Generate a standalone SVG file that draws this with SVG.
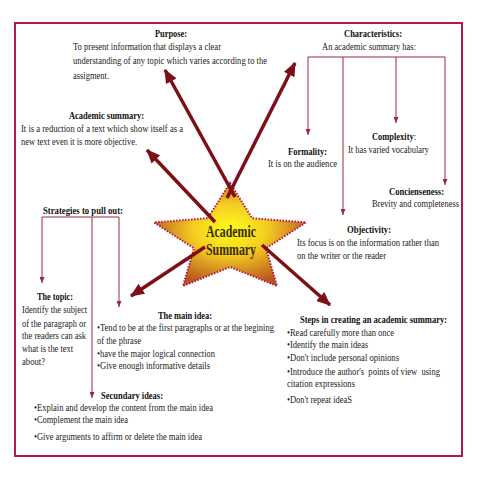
<svg xmlns="http://www.w3.org/2000/svg" width="480" height="480" viewBox="0 0 480 480">
<defs>
<style>
.t{font-family:"Liberation Serif","Times New Roman",serif;font-size:11px;fill:#222}
.b{font-weight:bold;fill:#111}
.thin{stroke:#9c2a3c;stroke-width:1;fill:none}
.thick{stroke:#7d0f18;stroke-width:3.5;fill:none}
.star-t{font-family:"Liberation Serif","Times New Roman",serif;font-size:16px;font-weight:bold;fill:#3a2a05}
</style>
<radialGradient id="sg" cx="50%" cy="45%" r="55%">
<stop offset="0" stop-color="#ffff1a"/>
<stop offset="0.45" stop-color="#f4cc22"/>
<stop offset="1" stop-color="#b8561e"/>
</radialGradient>
<marker id="big" viewBox="0 0 14 12" refX="13" refY="6" markerWidth="14" markerHeight="12" markerUnits="userSpaceOnUse" orient="auto">
<path d="M0,0 L14,6 L0,12 z" fill="#7d0f18"/>
</marker>
<marker id="small" viewBox="0 0 6 5" refX="6" refY="2.5" markerWidth="6" markerHeight="5" markerUnits="userSpaceOnUse" orient="auto">
<path d="M0,0 L6,2.5 L0,5 z" fill="#9c2a3c"/>
</marker>
</defs>
<rect x="0" y="0" width="480" height="480" fill="#fff"/>
<rect x="15" y="23" width="447" height="433" fill="none" stroke="#b01c4a" stroke-width="2"/>

<g id="star">
<path d="M230,183 L252.2,218.2 L306,222.4 L266,248.3 L277,286 L230,267 L183,286 L194,248.3 L154,222.4 L207.8,218.2 Z" fill="url(#sg)" stroke="#b0184a" stroke-width="2" stroke-dasharray="1.5 1.5"/>
<text class="star-t" x="206" y="237" textLength="50" lengthAdjust="spacingAndGlyphs">Academic</text>
<text class="star-t" x="206" y="255" textLength="50" lengthAdjust="spacingAndGlyphs">Summary</text>
</g>

<g id="connectors">
<line class="thick" x1="235" y1="197" x2="165" y2="70" marker-end="url(#big)"/>
<line class="thick" x1="227" y1="198" x2="295" y2="63" marker-end="url(#big)"/>
<line class="thick" x1="215" y1="222" x2="147" y2="150" marker-end="url(#big)"/>
<line class="thick" x1="205" y1="247" x2="131" y2="296" marker-end="url(#big)"/>
<line class="thick" x1="262" y1="245" x2="330" y2="305" marker-end="url(#big)"/>
<line class="thin" x1="308" y1="57" x2="445" y2="57"/>
<line class="thin" x1="308" y1="57" x2="308" y2="135" marker-end="url(#small)"/>
<line class="thin" x1="343" y1="57" x2="343" y2="215" marker-end="url(#small)"/>
<line class="thin" x1="396" y1="57" x2="396" y2="123" marker-end="url(#small)"/>
<line class="thin" x1="445" y1="57" x2="445" y2="185" marker-end="url(#small)"/>
<line class="thin" x1="42" y1="217" x2="119" y2="217"/>
<line class="thin" x1="42" y1="217" x2="42" y2="283" marker-end="url(#small)"/>
<line class="thin" x1="92" y1="217" x2="92" y2="398" marker-end="url(#small)"/>
<line class="thin" x1="119" y1="217" x2="119" y2="307" marker-end="url(#small)"/>
</g>

<g id="purpose">
<text class="t b" x="155" y="37" textLength="32" lengthAdjust="spacingAndGlyphs">Purpose:</text>
<text class="t" x="73" y="50" textLength="148" lengthAdjust="spacingAndGlyphs">To present information that displays a clear</text>
<text class="t" x="73" y="64" textLength="194" lengthAdjust="spacingAndGlyphs">understanding of any topic which varies according to the</text>
<text class="t" x="73" y="79" textLength="36" lengthAdjust="spacingAndGlyphs">assigment.</text>
</g>

<g id="academic-summary">
<text class="t b" x="69" y="119" textLength="75" lengthAdjust="spacingAndGlyphs">Academic summary:</text>
<text class="t" x="21" y="132" textLength="162" lengthAdjust="spacingAndGlyphs">It is a reduction of a text which show itself as a</text>
<text class="t" x="21" y="145" textLength="116" lengthAdjust="spacingAndGlyphs">new text even it is more objective.</text>
</g>

<g id="characteristics">
<text class="t b" x="344" y="37" textLength="58" lengthAdjust="spacingAndGlyphs">Characteristics:</text>
<text class="t" x="322" y="50" textLength="94" lengthAdjust="spacingAndGlyphs">An academic summary has:</text>
</g>

<g id="complexity">
<text class="t" x="372" y="140" textLength="44" lengthAdjust="spacingAndGlyphs"><tspan font-weight="bold" fill="#111">Complexity</tspan>:</text>
<text class="t" x="348" y="153" textLength="81" lengthAdjust="spacingAndGlyphs">It has varied vocabulary</text>
</g>

<g id="formality">
<text class="t b" x="288" y="155" textLength="39" lengthAdjust="spacingAndGlyphs">Formality:</text>
<text class="t" x="268" y="167" textLength="69" lengthAdjust="spacingAndGlyphs">It is on the audience</text>
</g>

<g id="concienseness">
<text class="t b" x="389" y="195" textLength="55" lengthAdjust="spacingAndGlyphs">Concienseness:</text>
<text class="t" x="372" y="207" textLength="87" lengthAdjust="spacingAndGlyphs">Brevity and completeness</text>
</g>

<g id="objectivity">
<text class="t b" x="347" y="233" textLength="44" lengthAdjust="spacingAndGlyphs">Objectivity:</text>
<text class="t" x="297" y="246" textLength="142" lengthAdjust="spacingAndGlyphs">Its focus is on the information rather than</text>
<text class="t" x="297" y="259" textLength="89" lengthAdjust="spacingAndGlyphs">on the writer or the reader</text>
</g>

<g id="strategies">
<text class="t b" x="43" y="214" textLength="80" lengthAdjust="spacingAndGlyphs">Strategies to pull out:</text>
</g>

<g id="topic">
<text class="t b" x="37" y="300" textLength="36" lengthAdjust="spacingAndGlyphs">The topic:</text>
<text class="t" x="22" y="313" textLength="65" lengthAdjust="spacingAndGlyphs">Identify the subject</text>
<text class="t" x="22" y="327" textLength="64" lengthAdjust="spacingAndGlyphs">of the paragraph or</text>
<text class="t" x="22" y="339" textLength="64" lengthAdjust="spacingAndGlyphs">the readers can ask</text>
<text class="t" x="22" y="352" textLength="51" lengthAdjust="spacingAndGlyphs">what is the text</text>
<text class="t" x="22" y="365" textLength="23" lengthAdjust="spacingAndGlyphs">about?</text>
</g>

<g id="main-idea">
<text class="t b" x="158" y="319" textLength="54" lengthAdjust="spacingAndGlyphs">The main idea:</text>
<text class="t" x="97" y="331" textLength="177" lengthAdjust="spacingAndGlyphs">•Tend to be at the first paragraphs or at the begining</text>
<text class="t" x="97" y="344" textLength="44" lengthAdjust="spacingAndGlyphs">of the phrase</text>
<text class="t" x="97" y="357" textLength="118" lengthAdjust="spacingAndGlyphs">•have the major logical connection</text>
<text class="t" x="97" y="369" textLength="113" lengthAdjust="spacingAndGlyphs">•Give enough informative details</text>
</g>

<g id="secundary-ideas">
<text class="t b" x="101" y="399" textLength="62" lengthAdjust="spacingAndGlyphs">Secundary ideas:</text>
<text class="t" x="34" y="411" textLength="179" lengthAdjust="spacingAndGlyphs">•Explain and develop the content from the main idea</text>
<text class="t" x="34" y="423" textLength="94" lengthAdjust="spacingAndGlyphs">•Complement the main idea</text>
<text class="t" x="34" y="440" textLength="168" lengthAdjust="spacingAndGlyphs">•Give arguments to affirm or delete the main idea</text>
</g>

<g id="steps">
<text class="t b" x="300" y="323" textLength="147" lengthAdjust="spacingAndGlyphs">Steps in creating an academic summary:</text>
<text class="t" x="287" y="336" textLength="107" lengthAdjust="spacingAndGlyphs">•Read carefully more than once</text>
<text class="t" x="287" y="348" textLength="81" lengthAdjust="spacingAndGlyphs">•Identify the main ideas</text>
<text class="t" x="287" y="361" textLength="112" lengthAdjust="spacingAndGlyphs">•Don't include personal opinions</text>
<text class="t" x="287" y="375" textLength="153" lengthAdjust="spacingAndGlyphs" xml:space="preserve">•Introduce the author's  points of view  using</text>
<text class="t" x="287" y="387" textLength="68" lengthAdjust="spacingAndGlyphs">citation expressions</text>
<text class="t" x="287" y="403" textLength="65" lengthAdjust="spacingAndGlyphs">•Don't repeat ideaS</text>
</g>
</svg>
